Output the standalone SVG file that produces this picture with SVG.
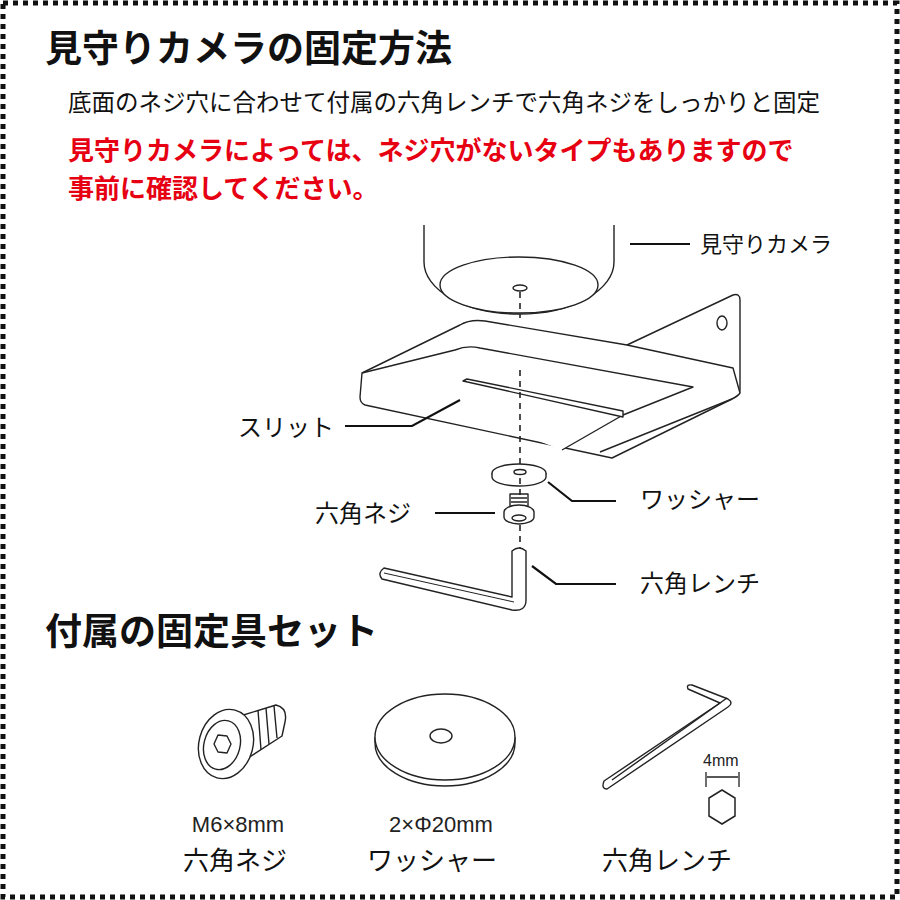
<svg xmlns="http://www.w3.org/2000/svg" width="900" height="900" viewBox="0 0 900 900">
<style>
.t{font-family:"Noto Sans CJK JP","Liberation Sans",sans-serif;fill:#111}
.n{font-family:"Liberation Sans","Noto Sans CJK JP",sans-serif;fill:#222}
.d{fill:#fff;stroke:#222;stroke-width:1.4;stroke-linejoin:round}
.l{fill:none;stroke:#111;stroke-width:2.2}
.dash{fill:none;stroke:#222;stroke-width:1.6;stroke-dasharray:6 5}
</style>
<rect x="0" y="0" width="900" height="900" fill="#fff"/>
<rect x="3" y="3" width="894" height="894" fill="none" stroke="#111" stroke-width="5" stroke-dasharray="5 5"/>
<text class="t" x="45" y="62" font-size="37" font-weight="bold">見守りカメラの固定方法</text>
<text class="t" x="68" y="111" font-size="23.5">底面のネジ穴に合わせて付属の六角レンチで六角ネジをしっかりと固定</text>
<text class="t" x="68" y="160" font-size="26" font-weight="bold" style="fill:#e60012">見守りカメラによっては、ネジ穴がないタイプもありますので</text>
<text class="t" x="68" y="198" font-size="26" font-weight="bold" style="fill:#e60012">事前に確認してください。</text>
<g id="camera">
<path class="d" d="M424 225 V262 A95 52 0 0 0 614 262 V225"/>
<ellipse class="d" cx="519" cy="285" rx="79" ry="28"/>
<ellipse class="d" cx="520" cy="288" rx="7" ry="3"/>
</g>
<g id="bracket">
<path class="d" d="M627 345 L733 295 Q740 293 740 300 V390 Q740 396 733 396 L693 388 Z"/>
<ellipse class="d" cx="722" cy="323" rx="5" ry="7"/>
<path class="d" d="M362 373 L460 325 Q470 319 485 321 L627 345 L733 368 L740 393 Q738 396 732 399 L612 458 L365 405 Q360 403 360 397 Z"/>
<path class="d" d="M362 373 L455 350 Q467 345 480 348 L693 387 L623 415 L562 450"/>
<path class="d" d="M463 381 L467 379 L623 411 L623 417 Z"/>
<path class="d" d="M732 399 L600 452"/>
</g>
<g id="washer"><ellipse class="d" cx="519" cy="473" rx="27" ry="9"/><path class="d" d="M492 473 v4 a27 9 0 0 0 54 0 v-4"/><ellipse class="d" cx="520" cy="472" rx="6" ry="2.5"/></g>
<g id="screw"><rect class="d" x="510" y="494" width="18" height="15"/><path class="d" d="M511 498h16M511 502h16M511 506h16"/><path class="d" d="M504 512 a15 7 0 0 1 30 0 v5 a15 7 0 0 1 -30 0 z"/><ellipse class="d" cx="519" cy="518" rx="7" ry="3"/></g>
<g id="wrench"><path class="d" d="M384 568 L512 597 V551 Q519 545 526 551 V600 Q526 612 512 610 L382 579 Q377 573 384 568 Z"/><path fill="none" stroke="#222" d="M384 573 L514 602"/></g>
<g id="connectors">
<path class="dash" d="M520 292 V318 M520 370 V470 M520 478 V496 M520 525 V548"/>
<path class="l" d="M630 244 H690"/>
<path class="l" d="M345 426 H412 L460 400"/>
<path class="l" d="M548 482 L572 501 H616"/>
<path class="l" d="M435 513 H495"/>
<path class="l" d="M532 566 L556 584 H616"/>
</g>
<text class="t" x="700" y="252" font-size="22">見守りカメラ</text>
<text class="t" x="238" y="436" font-size="24">スリット</text>
<text class="t" x="640" y="508" font-size="24">ワッシャー</text>
<text class="t" x="315" y="522" font-size="24">六角ネジ</text>
<text class="t" x="640" y="592" font-size="24">六角レンチ</text>
<text class="t" x="45" y="645" font-size="37" font-weight="bold">付属の固定具セット</text>
<g id="p-screw">
<path class="d" d="M240 716 L276 705 Q288 708 285 722 L282 736 L245 760 Z"/>
<path class="d" d="M258 710 l3 40 M266 708 l3 36 M274 706 l3 32"/>
<ellipse class="d" cx="226" cy="744" rx="27" ry="35" transform="rotate(15 226 744)"/>
<ellipse class="d" cx="222" cy="745" rx="18" ry="25" transform="rotate(15 222 745)"/>
<path class="d" d="M218 735 l9 1 l4 8 l-4 9 l-9 -1 l-4 -8 z"/>
</g>
<g id="p-washer">
<path class="d" d="M375 737 v6 a70 43 0 0 0 140 0 v-6"/>
<ellipse class="d" cx="445" cy="737" rx="70" ry="43"/>
<ellipse class="d" cx="441" cy="736" rx="11" ry="7"/>
</g>
<g id="p-wrench">
<path class="d" d="M604 781 L720 703 L688 689 Q686 684 692 685 L728 699 Q734 703 728 707 L607 789 Q601 789 604 781 Z"/>
<path class="d" d="M727 698 L612 780"/>
<text class="n" x="703" y="766" font-size="16">4mm</text>
<path fill="none" stroke="#222" stroke-width="1.3" d="M706 772 V787 M739 772 V787 M707 777 H738"/>
<path fill="none" stroke="#222" stroke-width="1.5" d="M722 790 L735 798 V816 L722 824 L709 816 V798 Z"/>
</g>
<text class="n" x="238" y="832" font-size="22" text-anchor="middle">M6×8mm</text>
<text class="n" x="441" y="832" font-size="22" text-anchor="middle">2×Φ20mm</text>
<text class="t" x="235" y="870" font-size="26" text-anchor="middle">六角ネジ</text>
<text class="t" x="432" y="870" font-size="26" text-anchor="middle">ワッシャー</text>
<text class="t" x="667" y="870" font-size="26" text-anchor="middle">六角レンチ</text>
</svg>
